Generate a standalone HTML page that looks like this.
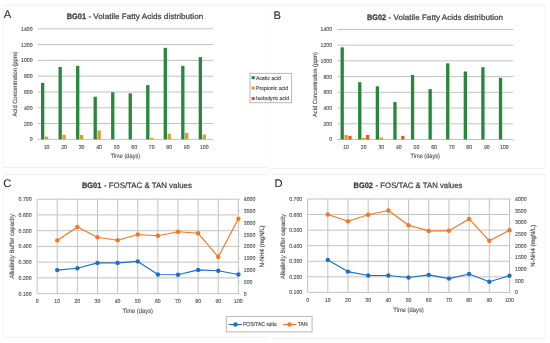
<!DOCTYPE html>
<html><head><meta charset="utf-8"><style>
html,body{margin:0;padding:0;background:#fff;}
svg{display:block;font-family:"Liberation Sans", sans-serif;text-rendering:geometricPrecision;will-change:transform;filter:blur(0.3px);}
</style></head><body>
<svg width="550" height="343" viewBox="0 0 550 343">
<rect width="550" height="343" fill="#fff"/>
<line x1="3.30" y1="5.20" x2="267.80" y2="5.20" stroke="#eeeeee" stroke-width="1"/>
<line x1="3.30" y1="167.40" x2="267.80" y2="167.40" stroke="#f0f0f0" stroke-width="1"/>
<line x1="3.30" y1="5.20" x2="3.30" y2="167.40" stroke="#f3f3f3" stroke-width="1"/>
<line x1="267.80" y1="5.20" x2="267.80" y2="167.40" stroke="#fcfcfc" stroke-width="1"/>
<line x1="267.80" y1="5.20" x2="271.20" y2="5.20" stroke="#eeeeee" stroke-width="1"/>
<line x1="271.20" y1="5.20" x2="544.80" y2="5.20" stroke="#eeeeee" stroke-width="1"/>
<line x1="271.20" y1="168.60" x2="544.80" y2="168.60" stroke="#f0f0f0" stroke-width="1"/>
<line x1="271.20" y1="5.20" x2="271.20" y2="168.60" stroke="#fcfcfc" stroke-width="1"/>
<line x1="544.80" y1="5.20" x2="544.80" y2="168.60" stroke="#f3f3f3" stroke-width="1"/>
<line x1="3.30" y1="174.40" x2="267.20" y2="174.40" stroke="#eeeeee" stroke-width="1"/>
<line x1="3.30" y1="337.20" x2="267.20" y2="337.20" stroke="#f0f0f0" stroke-width="1"/>
<line x1="3.30" y1="174.40" x2="3.30" y2="337.20" stroke="#f3f3f3" stroke-width="1"/>
<line x1="267.20" y1="174.40" x2="267.20" y2="337.20" stroke="#ffffff" stroke-width="1"/>
<line x1="271.50" y1="174.60" x2="544.80" y2="174.60" stroke="#eeeeee" stroke-width="1"/>
<line x1="271.50" y1="338.20" x2="544.80" y2="338.20" stroke="#f0f0f0" stroke-width="1"/>
<line x1="271.50" y1="174.60" x2="271.50" y2="338.20" stroke="#ffffff" stroke-width="1"/>
<line x1="544.80" y1="174.60" x2="544.80" y2="338.20" stroke="#f3f3f3" stroke-width="1"/>
<text x="3.70" y="17.70" font-size="11.2" fill="#262626" text-anchor="start" stroke="#262626" stroke-width="0.05">A</text>
<text x="273.40" y="18.60" font-size="11.2" fill="#262626" text-anchor="start" stroke="#262626" stroke-width="0.05">B</text>
<text x="3.30" y="187.10" font-size="11.2" fill="#262626" text-anchor="start" stroke="#262626" stroke-width="0.05">C</text>
<text x="274.60" y="186.60" font-size="11.2" fill="#262626" text-anchor="start" stroke="#262626" stroke-width="0.05">D</text>
<line x1="37.80" y1="139.35" x2="213.00" y2="139.35" stroke="#c3c3c3" stroke-width="1.0"/>
<text x="32.60" y="141.30" font-size="5.6" fill="#595959" text-anchor="end" stroke="#595959" stroke-width="0.15" textLength="2.89" lengthAdjust="spacingAndGlyphs">0</text>
<line x1="37.80" y1="123.56" x2="213.00" y2="123.56" stroke="#c3c3c3" stroke-width="1.0"/>
<text x="32.60" y="125.51" font-size="5.6" fill="#595959" text-anchor="end" stroke="#595959" stroke-width="0.15" textLength="8.68" lengthAdjust="spacingAndGlyphs">200</text>
<line x1="37.80" y1="107.76" x2="213.00" y2="107.76" stroke="#c3c3c3" stroke-width="1.0"/>
<text x="32.60" y="109.71" font-size="5.6" fill="#595959" text-anchor="end" stroke="#595959" stroke-width="0.15" textLength="8.68" lengthAdjust="spacingAndGlyphs">400</text>
<line x1="37.80" y1="91.97" x2="213.00" y2="91.97" stroke="#c3c3c3" stroke-width="1.0"/>
<text x="32.60" y="93.92" font-size="5.6" fill="#595959" text-anchor="end" stroke="#595959" stroke-width="0.15" textLength="8.68" lengthAdjust="spacingAndGlyphs">600</text>
<line x1="37.80" y1="76.18" x2="213.00" y2="76.18" stroke="#c3c3c3" stroke-width="1.0"/>
<text x="32.60" y="78.13" font-size="5.6" fill="#595959" text-anchor="end" stroke="#595959" stroke-width="0.15" textLength="8.68" lengthAdjust="spacingAndGlyphs">800</text>
<line x1="37.80" y1="60.39" x2="213.00" y2="60.39" stroke="#c3c3c3" stroke-width="1.0"/>
<text x="32.60" y="62.34" font-size="5.6" fill="#595959" text-anchor="end" stroke="#595959" stroke-width="0.15" textLength="11.57" lengthAdjust="spacingAndGlyphs">1000</text>
<line x1="37.80" y1="44.59" x2="213.00" y2="44.59" stroke="#c3c3c3" stroke-width="1.0"/>
<text x="32.60" y="46.54" font-size="5.6" fill="#595959" text-anchor="end" stroke="#595959" stroke-width="0.15" textLength="11.57" lengthAdjust="spacingAndGlyphs">1200</text>
<line x1="37.80" y1="28.80" x2="213.00" y2="28.80" stroke="#c3c3c3" stroke-width="1.0"/>
<text x="32.60" y="30.75" font-size="5.6" fill="#595959" text-anchor="end" stroke="#595959" stroke-width="0.15" textLength="11.57" lengthAdjust="spacingAndGlyphs">1400</text>
<rect x="41.01" y="82.81" width="3.30" height="56.54" fill="#27873b"/>
<rect x="44.91" y="136.59" width="3.30" height="2.76" fill="#dd9b2c"/>
<text x="46.56" y="148.75" font-size="5.6" fill="#595959" text-anchor="middle" stroke="#595959" stroke-width="0.15" textLength="5.78" lengthAdjust="spacingAndGlyphs">10</text>
<rect x="58.53" y="66.94" width="3.30" height="72.41" fill="#27873b"/>
<rect x="62.43" y="134.77" width="3.30" height="4.58" fill="#dd9b2c"/>
<text x="64.08" y="148.75" font-size="5.6" fill="#595959" text-anchor="middle" stroke="#595959" stroke-width="0.15" textLength="5.78" lengthAdjust="spacingAndGlyphs">20</text>
<rect x="76.05" y="65.83" width="3.30" height="73.52" fill="#27873b"/>
<rect x="79.95" y="134.93" width="3.30" height="4.42" fill="#dd9b2c"/>
<text x="81.60" y="148.75" font-size="5.6" fill="#595959" text-anchor="middle" stroke="#595959" stroke-width="0.15" textLength="5.78" lengthAdjust="spacingAndGlyphs">30</text>
<rect x="93.57" y="96.71" width="3.30" height="42.64" fill="#27873b"/>
<rect x="97.47" y="130.43" width="3.30" height="8.92" fill="#dd9b2c"/>
<text x="99.12" y="148.75" font-size="5.6" fill="#595959" text-anchor="middle" stroke="#595959" stroke-width="0.15" textLength="5.78" lengthAdjust="spacingAndGlyphs">40</text>
<rect x="111.09" y="92.29" width="3.30" height="47.06" fill="#27873b"/>
<text x="116.64" y="148.75" font-size="5.6" fill="#595959" text-anchor="middle" stroke="#595959" stroke-width="0.15" textLength="5.78" lengthAdjust="spacingAndGlyphs">50</text>
<rect x="128.61" y="93.31" width="3.30" height="46.04" fill="#27873b"/>
<text x="134.16" y="148.75" font-size="5.6" fill="#595959" text-anchor="middle" stroke="#595959" stroke-width="0.15" textLength="5.78" lengthAdjust="spacingAndGlyphs">60</text>
<rect x="146.13" y="85.10" width="3.30" height="54.25" fill="#27873b"/>
<rect x="150.03" y="137.85" width="3.30" height="1.50" fill="#dd9b2c"/>
<text x="151.68" y="148.75" font-size="5.6" fill="#595959" text-anchor="middle" stroke="#595959" stroke-width="0.15" textLength="5.78" lengthAdjust="spacingAndGlyphs">70</text>
<rect x="163.65" y="47.83" width="3.30" height="91.52" fill="#27873b"/>
<rect x="167.55" y="133.74" width="3.30" height="5.61" fill="#dd9b2c"/>
<text x="169.20" y="148.75" font-size="5.6" fill="#595959" text-anchor="middle" stroke="#595959" stroke-width="0.15" textLength="5.78" lengthAdjust="spacingAndGlyphs">80</text>
<rect x="181.17" y="65.83" width="3.30" height="73.52" fill="#27873b"/>
<rect x="185.07" y="132.95" width="3.30" height="6.40" fill="#dd9b2c"/>
<text x="186.72" y="148.75" font-size="5.6" fill="#595959" text-anchor="middle" stroke="#595959" stroke-width="0.15" textLength="5.78" lengthAdjust="spacingAndGlyphs">90</text>
<rect x="198.69" y="57.15" width="3.30" height="82.20" fill="#27873b"/>
<rect x="202.59" y="134.53" width="3.30" height="4.82" fill="#dd9b2c"/>
<text x="204.24" y="148.75" font-size="5.6" fill="#595959" text-anchor="middle" stroke="#595959" stroke-width="0.15" textLength="8.68" lengthAdjust="spacingAndGlyphs">100</text>
<text x="66.80" y="18.60" font-size="7.9" fill="#404040" text-anchor="start" stroke="#404040" stroke-width="0.3" font-weight="bold" textLength="19.20" lengthAdjust="spacingAndGlyphs">BG01</text>
<text x="88.40" y="18.60" font-size="7.9" fill="#404040" text-anchor="start" stroke="#404040" stroke-width="0.22" textLength="114.80" lengthAdjust="spacingAndGlyphs">- Volatile Fatty Acids distribution</text>
<text x="125.40" y="158.20" font-size="6.3" fill="#595959" text-anchor="middle" stroke="#595959" stroke-width="0.15" textLength="29.50" lengthAdjust="spacingAndGlyphs">Time (days)</text>
<text x="17.20" y="84.08" font-size="6.1" fill="#595959" text-anchor="middle" stroke="#595959" stroke-width="0.15" textLength="65.00" lengthAdjust="spacingAndGlyphs" transform="rotate(-90 17.20 84.08)">Acid Concentration (ppm)</text>
<line x1="337.30" y1="139.50" x2="513.20" y2="139.50" stroke="#c3c3c3" stroke-width="1.0"/>
<text x="332.10" y="141.45" font-size="5.6" fill="#595959" text-anchor="end" stroke="#595959" stroke-width="0.15" textLength="2.89" lengthAdjust="spacingAndGlyphs">0</text>
<line x1="337.30" y1="123.78" x2="513.20" y2="123.78" stroke="#c3c3c3" stroke-width="1.0"/>
<text x="332.10" y="125.73" font-size="5.6" fill="#595959" text-anchor="end" stroke="#595959" stroke-width="0.15" textLength="8.68" lengthAdjust="spacingAndGlyphs">200</text>
<line x1="337.30" y1="108.06" x2="513.20" y2="108.06" stroke="#c3c3c3" stroke-width="1.0"/>
<text x="332.10" y="110.01" font-size="5.6" fill="#595959" text-anchor="end" stroke="#595959" stroke-width="0.15" textLength="8.68" lengthAdjust="spacingAndGlyphs">400</text>
<line x1="337.30" y1="92.34" x2="513.20" y2="92.34" stroke="#c3c3c3" stroke-width="1.0"/>
<text x="332.10" y="94.29" font-size="5.6" fill="#595959" text-anchor="end" stroke="#595959" stroke-width="0.15" textLength="8.68" lengthAdjust="spacingAndGlyphs">600</text>
<line x1="337.30" y1="76.61" x2="513.20" y2="76.61" stroke="#c3c3c3" stroke-width="1.0"/>
<text x="332.10" y="78.56" font-size="5.6" fill="#595959" text-anchor="end" stroke="#595959" stroke-width="0.15" textLength="8.68" lengthAdjust="spacingAndGlyphs">800</text>
<line x1="337.30" y1="60.89" x2="513.20" y2="60.89" stroke="#c3c3c3" stroke-width="1.0"/>
<text x="332.10" y="62.84" font-size="5.6" fill="#595959" text-anchor="end" stroke="#595959" stroke-width="0.15" textLength="11.57" lengthAdjust="spacingAndGlyphs">1000</text>
<line x1="337.30" y1="45.17" x2="513.20" y2="45.17" stroke="#c3c3c3" stroke-width="1.0"/>
<text x="332.10" y="47.12" font-size="5.6" fill="#595959" text-anchor="end" stroke="#595959" stroke-width="0.15" textLength="11.57" lengthAdjust="spacingAndGlyphs">1200</text>
<line x1="337.30" y1="29.45" x2="513.20" y2="29.45" stroke="#c3c3c3" stroke-width="1.0"/>
<text x="332.10" y="31.40" font-size="5.6" fill="#595959" text-anchor="end" stroke="#595959" stroke-width="0.15" textLength="11.57" lengthAdjust="spacingAndGlyphs">1400</text>
<rect x="340.55" y="47.37" width="3.30" height="92.13" fill="#27873b"/>
<rect x="344.45" y="135.02" width="3.30" height="4.48" fill="#dd9b2c"/>
<rect x="348.35" y="135.88" width="3.30" height="3.62" fill="#e9542a"/>
<text x="346.10" y="148.90" font-size="5.6" fill="#595959" text-anchor="middle" stroke="#595959" stroke-width="0.15" textLength="5.78" lengthAdjust="spacingAndGlyphs">10</text>
<rect x="358.13" y="82.20" width="3.30" height="57.30" fill="#27873b"/>
<rect x="362.04" y="137.85" width="3.30" height="1.65" fill="#dd9b2c"/>
<rect x="365.94" y="135.02" width="3.30" height="4.48" fill="#e9542a"/>
<text x="363.69" y="148.90" font-size="5.6" fill="#595959" text-anchor="middle" stroke="#595959" stroke-width="0.15" textLength="5.78" lengthAdjust="spacingAndGlyphs">20</text>
<rect x="375.73" y="86.28" width="3.30" height="53.22" fill="#27873b"/>
<rect x="379.63" y="137.53" width="3.30" height="1.97" fill="#dd9b2c"/>
<text x="381.28" y="148.90" font-size="5.6" fill="#595959" text-anchor="middle" stroke="#595959" stroke-width="0.15" textLength="5.78" lengthAdjust="spacingAndGlyphs">30</text>
<rect x="393.31" y="102.08" width="3.30" height="37.42" fill="#27873b"/>
<rect x="401.12" y="135.88" width="3.30" height="3.62" fill="#e9542a"/>
<text x="398.87" y="148.90" font-size="5.6" fill="#595959" text-anchor="middle" stroke="#595959" stroke-width="0.15" textLength="5.78" lengthAdjust="spacingAndGlyphs">40</text>
<rect x="410.91" y="74.96" width="3.30" height="64.54" fill="#27873b"/>
<text x="416.46" y="148.90" font-size="5.6" fill="#595959" text-anchor="middle" stroke="#595959" stroke-width="0.15" textLength="5.78" lengthAdjust="spacingAndGlyphs">50</text>
<rect x="428.50" y="89.11" width="3.30" height="50.39" fill="#27873b"/>
<text x="434.05" y="148.90" font-size="5.6" fill="#595959" text-anchor="middle" stroke="#595959" stroke-width="0.15" textLength="5.78" lengthAdjust="spacingAndGlyphs">60</text>
<rect x="446.09" y="63.33" width="3.30" height="76.17" fill="#27873b"/>
<text x="451.64" y="148.90" font-size="5.6" fill="#595959" text-anchor="middle" stroke="#595959" stroke-width="0.15" textLength="5.78" lengthAdjust="spacingAndGlyphs">70</text>
<rect x="463.68" y="71.50" width="3.30" height="68.00" fill="#27873b"/>
<text x="469.23" y="148.90" font-size="5.6" fill="#595959" text-anchor="middle" stroke="#595959" stroke-width="0.15" textLength="5.78" lengthAdjust="spacingAndGlyphs">80</text>
<rect x="481.27" y="67.26" width="3.30" height="72.24" fill="#27873b"/>
<text x="486.82" y="148.90" font-size="5.6" fill="#595959" text-anchor="middle" stroke="#595959" stroke-width="0.15" textLength="5.78" lengthAdjust="spacingAndGlyphs">90</text>
<rect x="498.86" y="77.79" width="3.30" height="61.71" fill="#27873b"/>
<text x="504.41" y="148.90" font-size="5.6" fill="#595959" text-anchor="middle" stroke="#595959" stroke-width="0.15" textLength="8.68" lengthAdjust="spacingAndGlyphs">100</text>
<text x="366.90" y="19.60" font-size="7.9" fill="#404040" text-anchor="start" stroke="#404040" stroke-width="0.3" font-weight="bold" textLength="19.20" lengthAdjust="spacingAndGlyphs">BG02</text>
<text x="388.60" y="19.60" font-size="7.9" fill="#404040" text-anchor="start" stroke="#404040" stroke-width="0.22" textLength="114.40" lengthAdjust="spacingAndGlyphs">- Volatile Fatty Acids distribution</text>
<text x="425.25" y="158.30" font-size="6.3" fill="#595959" text-anchor="middle" stroke="#595959" stroke-width="0.15" textLength="29.50" lengthAdjust="spacingAndGlyphs">Time (days)</text>
<text x="317.10" y="84.47" font-size="6.1" fill="#595959" text-anchor="middle" stroke="#595959" stroke-width="0.15" textLength="65.00" lengthAdjust="spacingAndGlyphs" transform="rotate(-90 317.10 84.47)">Acid Concentration (ppm)</text>
<rect x="250.0" y="73.4" width="41.5" height="29.3" fill="#fff" stroke="#bfbfbf" stroke-width="1.1"/>
<rect x="251.60" y="76.20" width="3.20" height="3.00" fill="#27873b"/>
<text x="256.00" y="79.50" font-size="5.5" fill="#595959" text-anchor="start" stroke="#595959" stroke-width="0.2" textLength="24.80" lengthAdjust="spacingAndGlyphs">Acetic acid</text>
<rect x="251.60" y="86.60" width="3.20" height="3.00" fill="#dd9b2c"/>
<text x="256.00" y="89.90" font-size="5.5" fill="#595959" text-anchor="start" stroke="#595959" stroke-width="0.2" textLength="32.00" lengthAdjust="spacingAndGlyphs">Propionic acid</text>
<rect x="251.60" y="97.00" width="3.20" height="3.00" fill="#e9542a"/>
<text x="256.00" y="100.30" font-size="5.5" fill="#595959" text-anchor="start" stroke="#595959" stroke-width="0.2" textLength="33.10" lengthAdjust="spacingAndGlyphs">Isobutyric acid</text>
<line x1="37.10" y1="199.20" x2="37.10" y2="293.60" stroke="#c3c3c3" stroke-width="1.0"/>
<text x="37.10" y="302.90" font-size="5.6" fill="#595959" text-anchor="middle" stroke="#595959" stroke-width="0.15" textLength="2.89" lengthAdjust="spacingAndGlyphs">0</text>
<line x1="57.23" y1="199.20" x2="57.23" y2="293.60" stroke="#c3c3c3" stroke-width="1.0"/>
<text x="57.23" y="302.90" font-size="5.6" fill="#595959" text-anchor="middle" stroke="#595959" stroke-width="0.15" textLength="5.78" lengthAdjust="spacingAndGlyphs">10</text>
<line x1="77.36" y1="199.20" x2="77.36" y2="293.60" stroke="#c3c3c3" stroke-width="1.0"/>
<text x="77.36" y="302.90" font-size="5.6" fill="#595959" text-anchor="middle" stroke="#595959" stroke-width="0.15" textLength="5.78" lengthAdjust="spacingAndGlyphs">20</text>
<line x1="97.49" y1="199.20" x2="97.49" y2="293.60" stroke="#c3c3c3" stroke-width="1.0"/>
<text x="97.49" y="302.90" font-size="5.6" fill="#595959" text-anchor="middle" stroke="#595959" stroke-width="0.15" textLength="5.78" lengthAdjust="spacingAndGlyphs">30</text>
<line x1="117.62" y1="199.20" x2="117.62" y2="293.60" stroke="#c3c3c3" stroke-width="1.0"/>
<text x="117.62" y="302.90" font-size="5.6" fill="#595959" text-anchor="middle" stroke="#595959" stroke-width="0.15" textLength="5.78" lengthAdjust="spacingAndGlyphs">40</text>
<line x1="137.75" y1="199.20" x2="137.75" y2="293.60" stroke="#c3c3c3" stroke-width="1.0"/>
<text x="137.75" y="302.90" font-size="5.6" fill="#595959" text-anchor="middle" stroke="#595959" stroke-width="0.15" textLength="5.78" lengthAdjust="spacingAndGlyphs">50</text>
<line x1="157.88" y1="199.20" x2="157.88" y2="293.60" stroke="#c3c3c3" stroke-width="1.0"/>
<text x="157.88" y="302.90" font-size="5.6" fill="#595959" text-anchor="middle" stroke="#595959" stroke-width="0.15" textLength="5.78" lengthAdjust="spacingAndGlyphs">60</text>
<line x1="178.01" y1="199.20" x2="178.01" y2="293.60" stroke="#c3c3c3" stroke-width="1.0"/>
<text x="178.01" y="302.90" font-size="5.6" fill="#595959" text-anchor="middle" stroke="#595959" stroke-width="0.15" textLength="5.78" lengthAdjust="spacingAndGlyphs">70</text>
<line x1="198.14" y1="199.20" x2="198.14" y2="293.60" stroke="#c3c3c3" stroke-width="1.0"/>
<text x="198.14" y="302.90" font-size="5.6" fill="#595959" text-anchor="middle" stroke="#595959" stroke-width="0.15" textLength="5.78" lengthAdjust="spacingAndGlyphs">80</text>
<line x1="218.27" y1="199.20" x2="218.27" y2="293.60" stroke="#c3c3c3" stroke-width="1.0"/>
<text x="218.27" y="302.90" font-size="5.6" fill="#595959" text-anchor="middle" stroke="#595959" stroke-width="0.15" textLength="5.78" lengthAdjust="spacingAndGlyphs">90</text>
<line x1="238.40" y1="199.20" x2="238.40" y2="293.60" stroke="#c3c3c3" stroke-width="1.0"/>
<text x="238.40" y="302.90" font-size="5.6" fill="#595959" text-anchor="middle" stroke="#595959" stroke-width="0.15" textLength="8.68" lengthAdjust="spacingAndGlyphs">100</text>
<line x1="37.10" y1="293.60" x2="238.40" y2="293.60" stroke="#c3c3c3" stroke-width="1.0"/>
<text x="31.60" y="295.55" font-size="5.6" fill="#595959" text-anchor="end" stroke="#595959" stroke-width="0.15" textLength="13.01" lengthAdjust="spacingAndGlyphs">0.100</text>
<line x1="37.10" y1="277.87" x2="238.40" y2="277.87" stroke="#c3c3c3" stroke-width="1.0"/>
<text x="31.60" y="279.82" font-size="5.6" fill="#595959" text-anchor="end" stroke="#595959" stroke-width="0.15" textLength="13.01" lengthAdjust="spacingAndGlyphs">0.200</text>
<line x1="37.10" y1="262.13" x2="238.40" y2="262.13" stroke="#c3c3c3" stroke-width="1.0"/>
<text x="31.60" y="264.08" font-size="5.6" fill="#595959" text-anchor="end" stroke="#595959" stroke-width="0.15" textLength="13.01" lengthAdjust="spacingAndGlyphs">0.300</text>
<line x1="37.10" y1="246.40" x2="238.40" y2="246.40" stroke="#c3c3c3" stroke-width="1.0"/>
<text x="31.60" y="248.35" font-size="5.6" fill="#595959" text-anchor="end" stroke="#595959" stroke-width="0.15" textLength="13.01" lengthAdjust="spacingAndGlyphs">0.400</text>
<line x1="37.10" y1="230.67" x2="238.40" y2="230.67" stroke="#c3c3c3" stroke-width="1.0"/>
<text x="31.60" y="232.62" font-size="5.6" fill="#595959" text-anchor="end" stroke="#595959" stroke-width="0.15" textLength="13.01" lengthAdjust="spacingAndGlyphs">0.500</text>
<line x1="37.10" y1="214.93" x2="238.40" y2="214.93" stroke="#c3c3c3" stroke-width="1.0"/>
<text x="31.60" y="216.88" font-size="5.6" fill="#595959" text-anchor="end" stroke="#595959" stroke-width="0.15" textLength="13.01" lengthAdjust="spacingAndGlyphs">0.600</text>
<line x1="37.10" y1="199.20" x2="238.40" y2="199.20" stroke="#c3c3c3" stroke-width="1.0"/>
<text x="31.60" y="201.15" font-size="5.6" fill="#595959" text-anchor="end" stroke="#595959" stroke-width="0.15" textLength="13.01" lengthAdjust="spacingAndGlyphs">0.700</text>
<line x1="238.40" y1="293.60" x2="239.70" y2="293.60" stroke="#c3c3c3" stroke-width="1.0"/>
<text x="243.80" y="295.55" font-size="5.6" fill="#595959" text-anchor="start" stroke="#595959" stroke-width="0.15" textLength="2.89" lengthAdjust="spacingAndGlyphs">0</text>
<line x1="238.40" y1="281.80" x2="239.70" y2="281.80" stroke="#c3c3c3" stroke-width="1.0"/>
<text x="243.80" y="283.75" font-size="5.6" fill="#595959" text-anchor="start" stroke="#595959" stroke-width="0.15" textLength="8.68" lengthAdjust="spacingAndGlyphs">500</text>
<line x1="238.40" y1="270.00" x2="239.70" y2="270.00" stroke="#c3c3c3" stroke-width="1.0"/>
<text x="243.80" y="271.95" font-size="5.6" fill="#595959" text-anchor="start" stroke="#595959" stroke-width="0.15" textLength="11.57" lengthAdjust="spacingAndGlyphs">1000</text>
<line x1="238.40" y1="258.20" x2="239.70" y2="258.20" stroke="#c3c3c3" stroke-width="1.0"/>
<text x="243.80" y="260.15" font-size="5.6" fill="#595959" text-anchor="start" stroke="#595959" stroke-width="0.15" textLength="11.57" lengthAdjust="spacingAndGlyphs">1500</text>
<line x1="238.40" y1="246.40" x2="239.70" y2="246.40" stroke="#c3c3c3" stroke-width="1.0"/>
<text x="243.80" y="248.35" font-size="5.6" fill="#595959" text-anchor="start" stroke="#595959" stroke-width="0.15" textLength="11.57" lengthAdjust="spacingAndGlyphs">2000</text>
<line x1="238.40" y1="234.60" x2="239.70" y2="234.60" stroke="#c3c3c3" stroke-width="1.0"/>
<text x="243.80" y="236.55" font-size="5.6" fill="#595959" text-anchor="start" stroke="#595959" stroke-width="0.15" textLength="11.57" lengthAdjust="spacingAndGlyphs">2500</text>
<line x1="238.40" y1="222.80" x2="239.70" y2="222.80" stroke="#c3c3c3" stroke-width="1.0"/>
<text x="243.80" y="224.75" font-size="5.6" fill="#595959" text-anchor="start" stroke="#595959" stroke-width="0.15" textLength="11.57" lengthAdjust="spacingAndGlyphs">3000</text>
<line x1="238.40" y1="211.00" x2="239.70" y2="211.00" stroke="#c3c3c3" stroke-width="1.0"/>
<text x="243.80" y="212.95" font-size="5.6" fill="#595959" text-anchor="start" stroke="#595959" stroke-width="0.15" textLength="11.57" lengthAdjust="spacingAndGlyphs">3500</text>
<line x1="238.40" y1="199.20" x2="239.70" y2="199.20" stroke="#c3c3c3" stroke-width="1.0"/>
<text x="243.80" y="201.15" font-size="5.6" fill="#595959" text-anchor="start" stroke="#595959" stroke-width="0.15" textLength="11.57" lengthAdjust="spacingAndGlyphs">4000</text>
<polyline points="57.23,240.40 77.36,226.90 97.49,237.30 117.62,240.20 137.75,234.50 157.88,235.70 178.01,231.80 198.14,233.30 218.27,256.90 238.40,218.80" fill="none" stroke="#f7761f" stroke-width="1.15" stroke-linejoin="round"/>
<circle cx="57.23" cy="240.40" r="2.2" fill="#f7761f"/>
<circle cx="77.36" cy="226.90" r="2.2" fill="#f7761f"/>
<circle cx="97.49" cy="237.30" r="2.2" fill="#f7761f"/>
<circle cx="117.62" cy="240.20" r="2.2" fill="#f7761f"/>
<circle cx="137.75" cy="234.50" r="2.2" fill="#f7761f"/>
<circle cx="157.88" cy="235.70" r="2.2" fill="#f7761f"/>
<circle cx="178.01" cy="231.80" r="2.2" fill="#f7761f"/>
<circle cx="198.14" cy="233.30" r="2.2" fill="#f7761f"/>
<circle cx="218.27" cy="256.90" r="2.2" fill="#f7761f"/>
<circle cx="238.40" cy="218.80" r="2.2" fill="#f7761f"/>
<polyline points="57.23,270.10 77.36,268.20 97.49,262.90 117.62,262.90 137.75,261.40 157.88,274.50 178.01,274.70 198.14,269.90 218.27,270.80 238.40,274.50" fill="none" stroke="#1a6fcc" stroke-width="1.15" stroke-linejoin="round"/>
<circle cx="57.23" cy="270.10" r="2.2" fill="#1a6fcc"/>
<circle cx="77.36" cy="268.20" r="2.2" fill="#1a6fcc"/>
<circle cx="97.49" cy="262.90" r="2.2" fill="#1a6fcc"/>
<circle cx="117.62" cy="262.90" r="2.2" fill="#1a6fcc"/>
<circle cx="137.75" cy="261.40" r="2.2" fill="#1a6fcc"/>
<circle cx="157.88" cy="274.50" r="2.2" fill="#1a6fcc"/>
<circle cx="178.01" cy="274.70" r="2.2" fill="#1a6fcc"/>
<circle cx="198.14" cy="269.90" r="2.2" fill="#1a6fcc"/>
<circle cx="218.27" cy="270.80" r="2.2" fill="#1a6fcc"/>
<circle cx="238.40" cy="274.50" r="2.2" fill="#1a6fcc"/>
<text x="81.90" y="188.30" font-size="7.9" fill="#404040" text-anchor="start" stroke="#404040" stroke-width="0.3" font-weight="bold" textLength="19.40" lengthAdjust="spacingAndGlyphs">BG01</text>
<text x="103.90" y="188.30" font-size="7.9" fill="#404040" text-anchor="start" stroke="#404040" stroke-width="0.22" textLength="88.00" lengthAdjust="spacingAndGlyphs">- FOS/TAC &amp; TAN values</text>
<text x="137.75" y="312.90" font-size="6.3" fill="#595959" text-anchor="middle" stroke="#595959" stroke-width="0.15" textLength="30.50" lengthAdjust="spacingAndGlyphs">Time (days)</text>
<text x="14.40" y="246.40" font-size="6.3" fill="#595959" text-anchor="middle" stroke="#595959" stroke-width="0.15" textLength="64.70" lengthAdjust="spacingAndGlyphs" transform="rotate(-90 14.40 246.40)">Alkalinity Buffer capacity</text>
<text x="264.00" y="246.40" font-size="6.2" fill="#595959" text-anchor="middle" stroke="#595959" stroke-width="0.22" textLength="41.90" lengthAdjust="spacingAndGlyphs" transform="rotate(-90 264.00 246.40)">N-NH4 (mgN/L)</text>
<line x1="307.60" y1="199.00" x2="307.60" y2="292.40" stroke="#c3c3c3" stroke-width="1.0"/>
<text x="307.60" y="301.70" font-size="5.6" fill="#595959" text-anchor="middle" stroke="#595959" stroke-width="0.15" textLength="2.89" lengthAdjust="spacingAndGlyphs">0</text>
<line x1="327.79" y1="199.00" x2="327.79" y2="292.40" stroke="#c3c3c3" stroke-width="1.0"/>
<text x="327.79" y="301.70" font-size="5.6" fill="#595959" text-anchor="middle" stroke="#595959" stroke-width="0.15" textLength="5.78" lengthAdjust="spacingAndGlyphs">10</text>
<line x1="347.98" y1="199.00" x2="347.98" y2="292.40" stroke="#c3c3c3" stroke-width="1.0"/>
<text x="347.98" y="301.70" font-size="5.6" fill="#595959" text-anchor="middle" stroke="#595959" stroke-width="0.15" textLength="5.78" lengthAdjust="spacingAndGlyphs">20</text>
<line x1="368.17" y1="199.00" x2="368.17" y2="292.40" stroke="#c3c3c3" stroke-width="1.0"/>
<text x="368.17" y="301.70" font-size="5.6" fill="#595959" text-anchor="middle" stroke="#595959" stroke-width="0.15" textLength="5.78" lengthAdjust="spacingAndGlyphs">30</text>
<line x1="388.36" y1="199.00" x2="388.36" y2="292.40" stroke="#c3c3c3" stroke-width="1.0"/>
<text x="388.36" y="301.70" font-size="5.6" fill="#595959" text-anchor="middle" stroke="#595959" stroke-width="0.15" textLength="5.78" lengthAdjust="spacingAndGlyphs">40</text>
<line x1="408.55" y1="199.00" x2="408.55" y2="292.40" stroke="#c3c3c3" stroke-width="1.0"/>
<text x="408.55" y="301.70" font-size="5.6" fill="#595959" text-anchor="middle" stroke="#595959" stroke-width="0.15" textLength="5.78" lengthAdjust="spacingAndGlyphs">50</text>
<line x1="428.74" y1="199.00" x2="428.74" y2="292.40" stroke="#c3c3c3" stroke-width="1.0"/>
<text x="428.74" y="301.70" font-size="5.6" fill="#595959" text-anchor="middle" stroke="#595959" stroke-width="0.15" textLength="5.78" lengthAdjust="spacingAndGlyphs">60</text>
<line x1="448.93" y1="199.00" x2="448.93" y2="292.40" stroke="#c3c3c3" stroke-width="1.0"/>
<text x="448.93" y="301.70" font-size="5.6" fill="#595959" text-anchor="middle" stroke="#595959" stroke-width="0.15" textLength="5.78" lengthAdjust="spacingAndGlyphs">70</text>
<line x1="469.12" y1="199.00" x2="469.12" y2="292.40" stroke="#c3c3c3" stroke-width="1.0"/>
<text x="469.12" y="301.70" font-size="5.6" fill="#595959" text-anchor="middle" stroke="#595959" stroke-width="0.15" textLength="5.78" lengthAdjust="spacingAndGlyphs">80</text>
<line x1="489.31" y1="199.00" x2="489.31" y2="292.40" stroke="#c3c3c3" stroke-width="1.0"/>
<text x="489.31" y="301.70" font-size="5.6" fill="#595959" text-anchor="middle" stroke="#595959" stroke-width="0.15" textLength="5.78" lengthAdjust="spacingAndGlyphs">90</text>
<line x1="509.50" y1="199.00" x2="509.50" y2="292.40" stroke="#c3c3c3" stroke-width="1.0"/>
<text x="509.50" y="301.70" font-size="5.6" fill="#595959" text-anchor="middle" stroke="#595959" stroke-width="0.15" textLength="8.68" lengthAdjust="spacingAndGlyphs">100</text>
<line x1="307.60" y1="292.40" x2="509.50" y2="292.40" stroke="#c3c3c3" stroke-width="1.0"/>
<text x="302.20" y="294.35" font-size="5.6" fill="#595959" text-anchor="end" stroke="#595959" stroke-width="0.15" textLength="13.01" lengthAdjust="spacingAndGlyphs">0.100</text>
<line x1="307.60" y1="276.83" x2="509.50" y2="276.83" stroke="#c3c3c3" stroke-width="1.0"/>
<text x="302.20" y="278.78" font-size="5.6" fill="#595959" text-anchor="end" stroke="#595959" stroke-width="0.15" textLength="13.01" lengthAdjust="spacingAndGlyphs">0.200</text>
<line x1="307.60" y1="261.27" x2="509.50" y2="261.27" stroke="#c3c3c3" stroke-width="1.0"/>
<text x="302.20" y="263.22" font-size="5.6" fill="#595959" text-anchor="end" stroke="#595959" stroke-width="0.15" textLength="13.01" lengthAdjust="spacingAndGlyphs">0.300</text>
<line x1="307.60" y1="245.70" x2="509.50" y2="245.70" stroke="#c3c3c3" stroke-width="1.0"/>
<text x="302.20" y="247.65" font-size="5.6" fill="#595959" text-anchor="end" stroke="#595959" stroke-width="0.15" textLength="13.01" lengthAdjust="spacingAndGlyphs">0.400</text>
<line x1="307.60" y1="230.13" x2="509.50" y2="230.13" stroke="#c3c3c3" stroke-width="1.0"/>
<text x="302.20" y="232.08" font-size="5.6" fill="#595959" text-anchor="end" stroke="#595959" stroke-width="0.15" textLength="13.01" lengthAdjust="spacingAndGlyphs">0.500</text>
<line x1="307.60" y1="214.57" x2="509.50" y2="214.57" stroke="#c3c3c3" stroke-width="1.0"/>
<text x="302.20" y="216.52" font-size="5.6" fill="#595959" text-anchor="end" stroke="#595959" stroke-width="0.15" textLength="13.01" lengthAdjust="spacingAndGlyphs">0.600</text>
<line x1="307.60" y1="199.00" x2="509.50" y2="199.00" stroke="#c3c3c3" stroke-width="1.0"/>
<text x="302.20" y="200.95" font-size="5.6" fill="#595959" text-anchor="end" stroke="#595959" stroke-width="0.15" textLength="13.01" lengthAdjust="spacingAndGlyphs">0.700</text>
<line x1="509.50" y1="292.40" x2="510.80" y2="292.40" stroke="#c3c3c3" stroke-width="1.0"/>
<text x="515.10" y="294.35" font-size="5.6" fill="#595959" text-anchor="start" stroke="#595959" stroke-width="0.15" textLength="2.89" lengthAdjust="spacingAndGlyphs">0</text>
<line x1="509.50" y1="280.72" x2="510.80" y2="280.72" stroke="#c3c3c3" stroke-width="1.0"/>
<text x="515.10" y="282.67" font-size="5.6" fill="#595959" text-anchor="start" stroke="#595959" stroke-width="0.15" textLength="8.68" lengthAdjust="spacingAndGlyphs">500</text>
<line x1="509.50" y1="269.05" x2="510.80" y2="269.05" stroke="#c3c3c3" stroke-width="1.0"/>
<text x="515.10" y="271.00" font-size="5.6" fill="#595959" text-anchor="start" stroke="#595959" stroke-width="0.15" textLength="11.57" lengthAdjust="spacingAndGlyphs">1000</text>
<line x1="509.50" y1="257.38" x2="510.80" y2="257.38" stroke="#c3c3c3" stroke-width="1.0"/>
<text x="515.10" y="259.32" font-size="5.6" fill="#595959" text-anchor="start" stroke="#595959" stroke-width="0.15" textLength="11.57" lengthAdjust="spacingAndGlyphs">1500</text>
<line x1="509.50" y1="245.70" x2="510.80" y2="245.70" stroke="#c3c3c3" stroke-width="1.0"/>
<text x="515.10" y="247.65" font-size="5.6" fill="#595959" text-anchor="start" stroke="#595959" stroke-width="0.15" textLength="11.57" lengthAdjust="spacingAndGlyphs">2000</text>
<line x1="509.50" y1="234.02" x2="510.80" y2="234.02" stroke="#c3c3c3" stroke-width="1.0"/>
<text x="515.10" y="235.97" font-size="5.6" fill="#595959" text-anchor="start" stroke="#595959" stroke-width="0.15" textLength="11.57" lengthAdjust="spacingAndGlyphs">2500</text>
<line x1="509.50" y1="222.35" x2="510.80" y2="222.35" stroke="#c3c3c3" stroke-width="1.0"/>
<text x="515.10" y="224.30" font-size="5.6" fill="#595959" text-anchor="start" stroke="#595959" stroke-width="0.15" textLength="11.57" lengthAdjust="spacingAndGlyphs">3000</text>
<line x1="509.50" y1="210.68" x2="510.80" y2="210.68" stroke="#c3c3c3" stroke-width="1.0"/>
<text x="515.10" y="212.62" font-size="5.6" fill="#595959" text-anchor="start" stroke="#595959" stroke-width="0.15" textLength="11.57" lengthAdjust="spacingAndGlyphs">3500</text>
<line x1="509.50" y1="199.00" x2="510.80" y2="199.00" stroke="#c3c3c3" stroke-width="1.0"/>
<text x="515.10" y="200.95" font-size="5.6" fill="#595959" text-anchor="start" stroke="#595959" stroke-width="0.15" textLength="11.57" lengthAdjust="spacingAndGlyphs">4000</text>
<polyline points="327.79,214.50 347.98,221.20 368.17,214.70 388.36,210.50 408.55,225.30 428.74,230.90 448.93,230.80 469.12,218.90 489.31,240.80 509.50,230.30" fill="none" stroke="#f7761f" stroke-width="1.15" stroke-linejoin="round"/>
<circle cx="327.79" cy="214.50" r="2.2" fill="#f7761f"/>
<circle cx="347.98" cy="221.20" r="2.2" fill="#f7761f"/>
<circle cx="368.17" cy="214.70" r="2.2" fill="#f7761f"/>
<circle cx="388.36" cy="210.50" r="2.2" fill="#f7761f"/>
<circle cx="408.55" cy="225.30" r="2.2" fill="#f7761f"/>
<circle cx="428.74" cy="230.90" r="2.2" fill="#f7761f"/>
<circle cx="448.93" cy="230.80" r="2.2" fill="#f7761f"/>
<circle cx="469.12" cy="218.90" r="2.2" fill="#f7761f"/>
<circle cx="489.31" cy="240.80" r="2.2" fill="#f7761f"/>
<circle cx="509.50" cy="230.30" r="2.2" fill="#f7761f"/>
<polyline points="327.79,259.90 347.98,271.60 368.17,275.50 388.36,275.50 408.55,277.50 428.74,274.90 448.93,278.60 469.12,274.00 489.31,281.80 509.50,275.80" fill="none" stroke="#1a6fcc" stroke-width="1.15" stroke-linejoin="round"/>
<circle cx="327.79" cy="259.90" r="2.2" fill="#1a6fcc"/>
<circle cx="347.98" cy="271.60" r="2.2" fill="#1a6fcc"/>
<circle cx="368.17" cy="275.50" r="2.2" fill="#1a6fcc"/>
<circle cx="388.36" cy="275.50" r="2.2" fill="#1a6fcc"/>
<circle cx="408.55" cy="277.50" r="2.2" fill="#1a6fcc"/>
<circle cx="428.74" cy="274.90" r="2.2" fill="#1a6fcc"/>
<circle cx="448.93" cy="278.60" r="2.2" fill="#1a6fcc"/>
<circle cx="469.12" cy="274.00" r="2.2" fill="#1a6fcc"/>
<circle cx="489.31" cy="281.80" r="2.2" fill="#1a6fcc"/>
<circle cx="509.50" cy="275.80" r="2.2" fill="#1a6fcc"/>
<text x="353.60" y="188.30" font-size="7.9" fill="#404040" text-anchor="start" stroke="#404040" stroke-width="0.3" font-weight="bold" textLength="19.40" lengthAdjust="spacingAndGlyphs">BG02</text>
<text x="375.60" y="188.30" font-size="7.9" fill="#404040" text-anchor="start" stroke="#404040" stroke-width="0.22" textLength="86.80" lengthAdjust="spacingAndGlyphs">- FOS/TAC &amp; TAN values</text>
<text x="408.55" y="312.10" font-size="6.3" fill="#595959" text-anchor="middle" stroke="#595959" stroke-width="0.15" textLength="30.50" lengthAdjust="spacingAndGlyphs">Time (days)</text>
<text x="285.00" y="246.40" font-size="6.3" fill="#595959" text-anchor="middle" stroke="#595959" stroke-width="0.15" textLength="65.50" lengthAdjust="spacingAndGlyphs" transform="rotate(-90 285.00 246.40)">Alkalinity Buffer capacity</text>
<text x="534.90" y="245.70" font-size="6.2" fill="#595959" text-anchor="middle" stroke="#595959" stroke-width="0.22" textLength="41.90" lengthAdjust="spacingAndGlyphs" transform="rotate(-90 534.90 245.70)">N-NH4 (mgN/L)</text>
<rect x="226.4" y="316.5" width="85.7" height="15.4" fill="#fff" stroke="#bfbfbf" stroke-width="1.1"/>
<line x1="228.70" y1="324.50" x2="241.80" y2="324.50" stroke="#1a6fcc" stroke-width="1.15"/>
<circle cx="235.5" cy="324.5" r="2.2" fill="#1a6fcc"/>
<text x="242.90" y="326.30" font-size="5.7" fill="#595959" text-anchor="start" stroke="#595959" stroke-width="0.2" textLength="33.80" lengthAdjust="spacingAndGlyphs">FOS/TAC ratio</text>
<line x1="283.10" y1="324.50" x2="296.20" y2="324.50" stroke="#f7761f" stroke-width="1.15"/>
<circle cx="289.6" cy="324.5" r="2.2" fill="#f7761f"/>
<text x="297.80" y="326.30" font-size="5.7" fill="#595959" text-anchor="start" stroke="#595959" stroke-width="0.2" textLength="9.80" lengthAdjust="spacingAndGlyphs">TAN</text>
</svg>
</body></html>
